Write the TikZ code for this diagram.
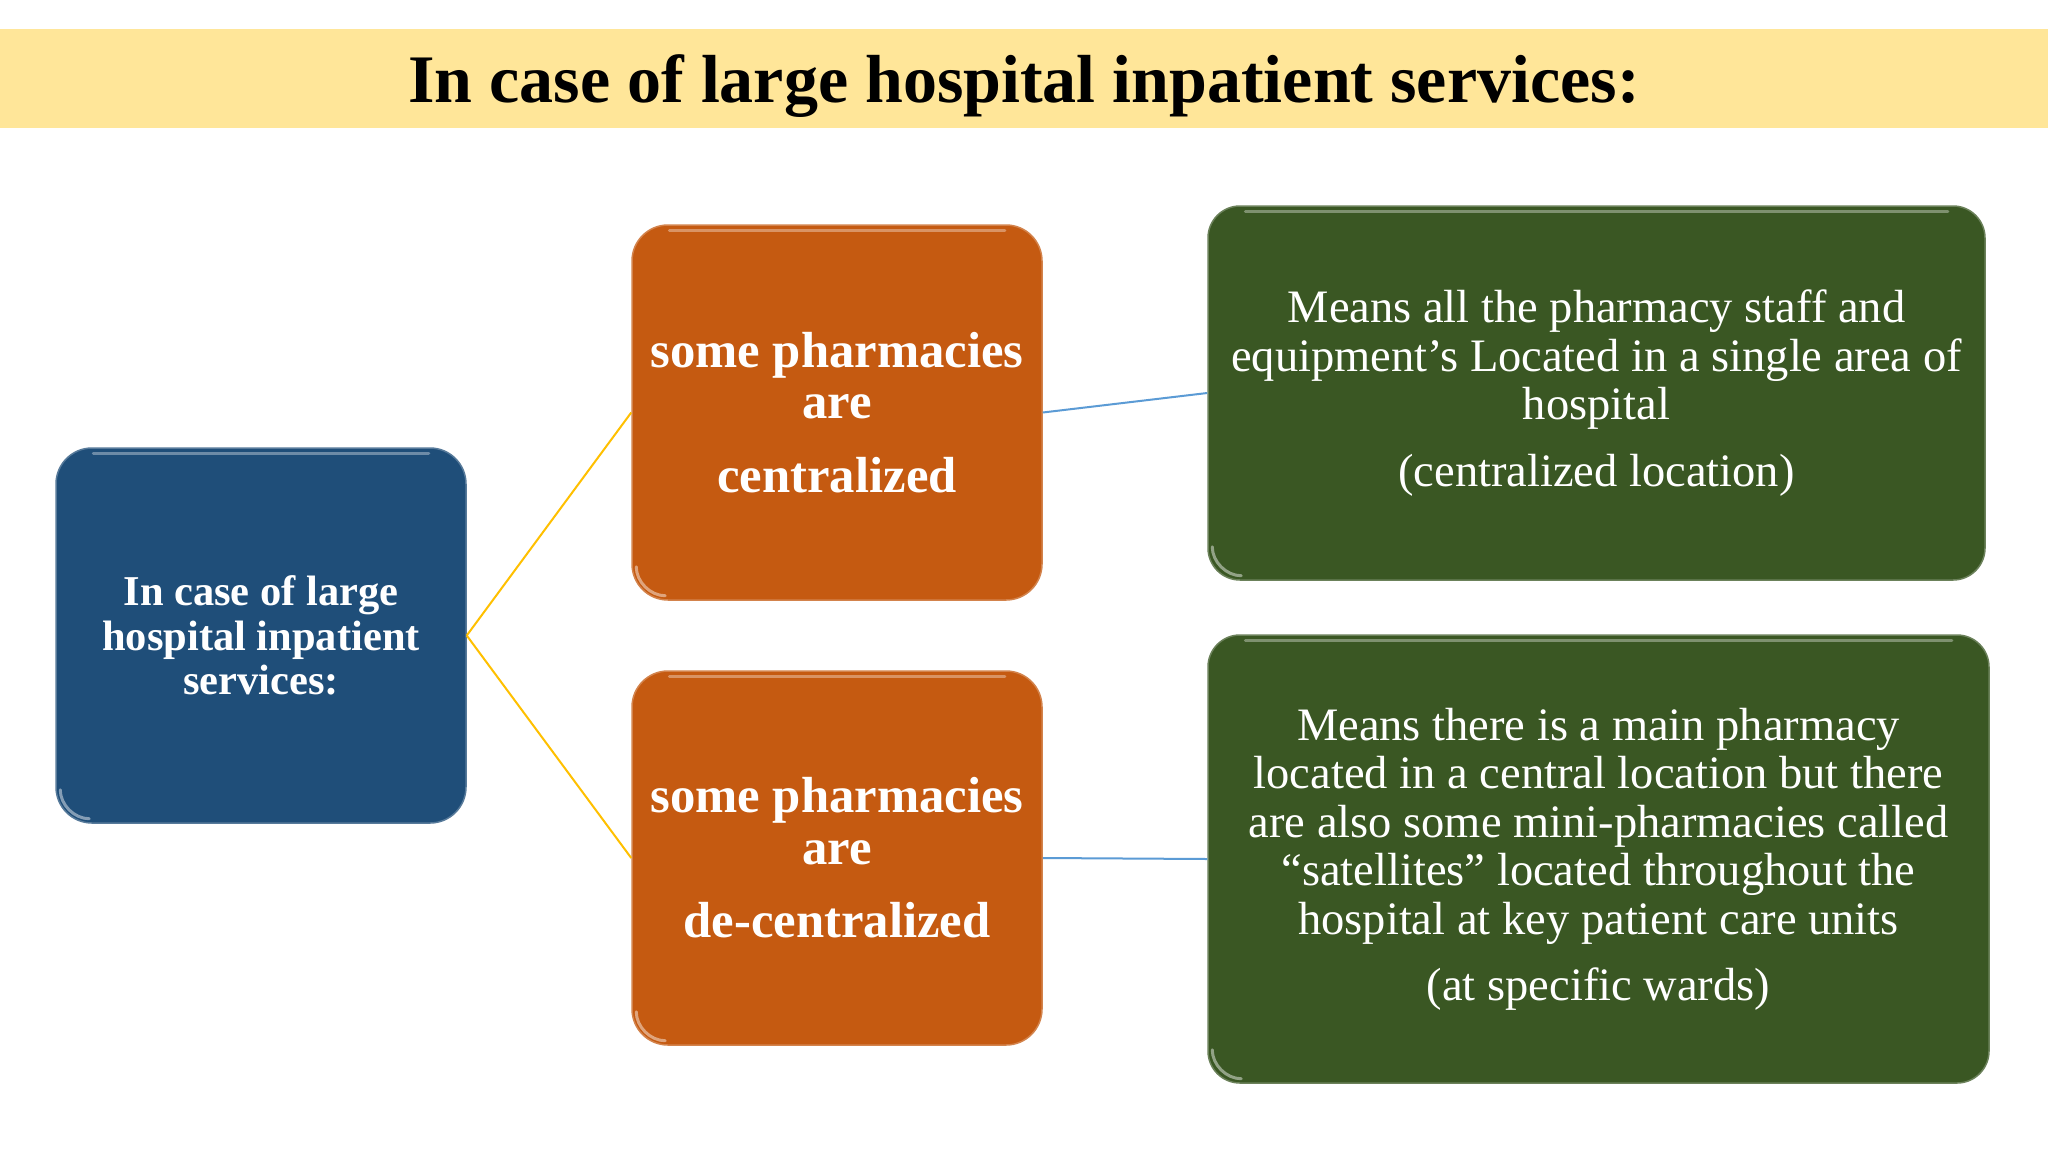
\documentclass[tikz,border=0pt]{standalone}
\usepackage{fontspec}
\setmainfont{Liberation Serif}
\definecolor{band}{RGB}{255,230,153}
\definecolor{bluebox}{RGB}{31,78,121}
\definecolor{orangebox}{RGB}{197,90,17}
\definecolor{greenbox}{RGB}{58,87,35}
\definecolor{yline}{RGB}{255,192,0}
\definecolor{bline}{RGB}{91,155,213}
\begin{document}
\begin{tikzpicture}[x=1pt,y=-1pt,
  box/.style={rounded corners=36pt, align=center, text=white, inner sep=0pt, draw=#1!75!white, line width=1.5pt, fill=#1},
  yconn/.style={draw=yline, line width=2pt},
  bconn/.style={draw=bline, line width=2pt},
  gloss/.style={draw=white, opacity=0.35, line width=3pt, line cap=round},
  rootfont/.style={font=\fontsize{42.5}{44.5}\selectfont\bfseries},
  midfont/.style={font=\fontsize{50.7}{51.5}\selectfont\bfseries},
  descfont/.style={font=\fontsize{46.5}{48.6}\selectfont}]
\useasboundingbox (0,0) rectangle (2048,1152);
\fill[white] (0,0) rectangle (2048,1152);
\fill[band] (0,29) rectangle (2048,128);
\node[anchor=base, inner sep=0pt, font=\fontsize{68}{72}\selectfont\bfseries] (title) at (1024,102) {In case of large hospital inpatient services:};

\node[box=bluebox, rootfont, minimum width=410pt, minimum height=375pt] (root) at (261,635.5)
  {In case of large\\ hospital inpatient\\ services:};

\node[box=orangebox, midfont, minimum width=410pt, minimum height=375pt] (c1) at (837,412.5)
  {some pharmacies\\ are\\[22pt] centralized};
\node[box=orangebox, midfont, minimum width=410pt, minimum height=374pt] (c2) at (837,858)
  {some pharmacies\\ are\\[22pt] de-centralized};

\node[box=greenbox, descfont, rounded corners=32pt, minimum width=777pt, minimum height=374pt] (g1) at (1596.5,393)
  {Means all the pharmacy staff and\\ equipment’s Located in a single area of\\ hospital\\[18pt] (centralized location)};
\node[box=greenbox, descfont, rounded corners=32pt, minimum width=781pt, minimum height=448pt] (g2) at (1598.5,859)
  {Means there is a main pharmacy\\ located in a central location but there\\ are also some mini-pharmacies called\\ “satellites” located throughout the\\ hospital at key patient care units\\[17pt] (at specific wards)};

\foreach \n in {root,c1,c2,g1,g2}{
  \draw[gloss] ([xshift=38pt,yshift=-6pt]\n.north west) -- ([xshift=-38pt,yshift=-6pt]\n.north east);
  \draw[gloss, opacity=0.45] ([xshift=5pt,yshift=34pt]\n.south west) .. controls ([xshift=5pt,yshift=19pt]\n.south west) and ([xshift=19pt,yshift=5pt]\n.south west) .. ([xshift=34pt,yshift=5pt]\n.south west);
}

\draw[yconn] (root.east) -- (c1.west);
\draw[yconn] (root.east) -- (c2.west);
\draw[bconn] (c1.east) -- (g1.west);
\draw[bconn] (c2.east) -- (g2.west);
\end{tikzpicture}
\end{document}
